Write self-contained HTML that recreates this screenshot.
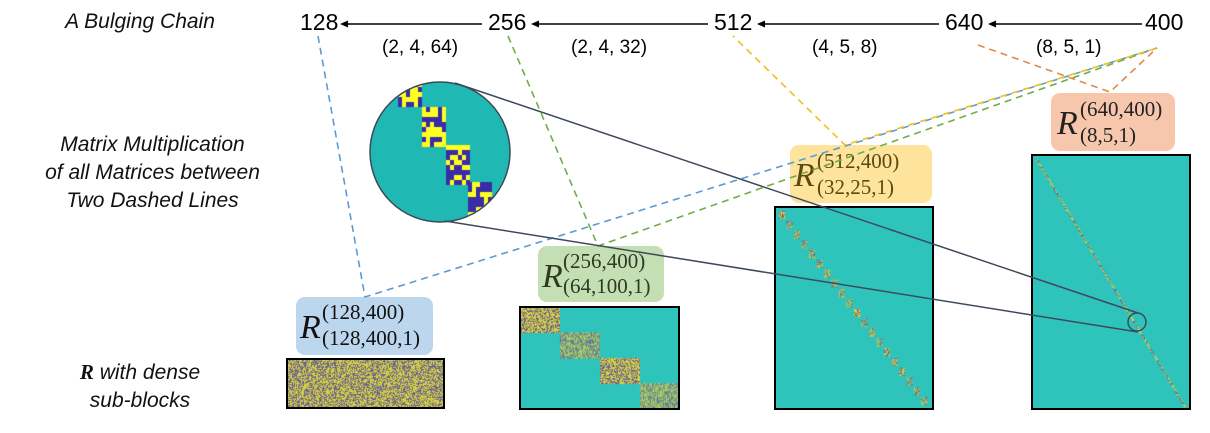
<!DOCTYPE html>
<html><head><meta charset="utf-8"><style>
html,body{margin:0;padding:0;background:#fff;width:1210px;height:433px;overflow:hidden;position:relative;font-family:"Liberation Sans",sans-serif}
canvas{position:absolute}
svg{position:absolute;left:0;top:0}
.lt{position:absolute;font-style:italic;font-size:21px;text-align:center;line-height:28px;color:#111}
.lab{position:absolute;border-radius:9px;font-family:"Liberation Serif",serif}
.lab .R{position:absolute;font-style:italic;font-size:34px}
.lab .s{position:absolute;font-size:21px;white-space:nowrap}
.num{position:absolute;font-size:23px;color:#000}
.tr{position:absolute;font-size:19px;color:#000}
</style></head><body>
<canvas id="c1" width="157" height="49" style="left:287px;top:359px"></canvas>
<canvas id="c2" width="159" height="102" style="left:520px;top:307px"></canvas>
<canvas id="c3" width="158" height="202" style="left:775px;top:207px"></canvas>
<canvas id="c4" width="158" height="254" style="left:1032px;top:155px"></canvas>
<canvas id="c5" width="140" height="140" style="left:370px;top:82px;border-radius:50%"></canvas>

<div class="lt" style="left:40px;top:8px;width:200px">A Bulging Chain</div>
<div class="lt" style="left:10px;top:131px;width:285px">Matrix Multiplication<br>of all Matrices between<br>Two Dashed Lines</div>
<div class="lt" style="left:40px;top:358px;width:200px"><b style="font-family:'Liberation Serif',serif">R</b> with dense<br>sub-blocks</div>

<div class="num" style="left:300px;top:9px">128</div>
<div class="num" style="left:488px;top:9px">256</div>
<div class="num" style="left:714px;top:9px">512</div>
<div class="num" style="left:945px;top:9px">640</div>
<div class="num" style="left:1145px;top:9px">400</div>
<div class="tr" style="left:382px;top:37px">(2, 4, 64)</div>
<div class="tr" style="left:571px;top:37px">(2, 4, 32)</div>
<div class="tr" style="left:812px;top:37px">(4, 5, 8)</div>
<div class="tr" style="left:1036px;top:37px">(8, 5, 1)</div>

<div class="lab" style="left:296px;top:297px;width:137px;height:58px;background:#bcd6ee;color:#111">
<span class="R" style="left:4px;top:12px">R</span><span class="s" style="left:26px;top:3px">(128,400)</span><span class="s" style="left:26px;top:29px">(128,400,1)</span></div>
<div class="lab" style="left:538px;top:246px;width:126px;height:56px;background:#c5dfb5;color:#2e3a22">
<span class="R" style="left:4px;top:12px">R</span><span class="s" style="left:25px;top:3px">(256,400)</span><span class="s" style="left:25px;top:28px">(64,100,1)</span></div>
<div class="lab" style="left:790px;top:145px;width:142px;height:58px;background:#fde39c;color:#5c4a10">
<span class="R" style="left:4px;top:12px">R</span><span class="s" style="left:27px;top:4px">(512,400)</span><span class="s" style="left:27px;top:30px">(32,25,1)</span></div>
<div class="lab" style="left:1051px;top:93px;width:124px;height:58px;background:#f7c7ad;color:#222">
<span class="R" style="left:6px;top:12px">R</span><span class="s" style="left:29px;top:4px">(640,400)</span><span class="s" style="left:29px;top:30px">(8,5,1)</span></div>

<svg width="1210" height="433">
<g stroke="#000" stroke-width="1.6">
<line x1="346" y1="24" x2="482" y2="24"/>
<line x1="537" y1="24" x2="708" y2="24"/>
<line x1="763" y1="24" x2="939" y2="24"/>
<line x1="994" y1="24" x2="1142" y2="24"/>
</g>
<g fill="#000">
<path d="M340,24 L348,20.5 L348,27.5Z"/>
<path d="M531,24 L539,20.5 L539,27.5Z"/>
<path d="M757,24 L765,20.5 L765,27.5Z"/>
<path d="M988,24 L996,20.5 L996,27.5Z"/>
</g>
<g fill="none" stroke-width="1.6" stroke-dasharray="7,5">
<path d="M318,36 L365,297 L1157,48" stroke="#5b9bd5"/>
<path d="M508,36 L598,246 L1157,48" stroke="#70ad47"/>
<path d="M733,36 L845,145 L1157,48" stroke="#f0c020" stroke-dashoffset="5"/>
<path d="M978,45 L1110,92 L1157,48" stroke="#e0894a"/>
</g>
<g fill="none" stroke="#000" stroke-width="2">
<rect x="287" y="359" width="157" height="49"/>
<rect x="520" y="307" width="159" height="102"/>
<rect x="775" y="207" width="158" height="202"/>
<rect x="1032" y="155" width="158" height="254"/>
</g>
<g stroke="#3d4a5c" stroke-width="1.5" fill="none">
<line x1="455" y1="83" x2="1138" y2="313"/>
<line x1="445" y1="221" x2="1138" y2="332"/>
<circle cx="440" cy="152" r="70"/>
<circle cx="1137" cy="322" r="9"/>
</g>
</svg>
<script>
function seed(s){return function(){s=(s*16807)%2147483647;return s/2147483647}}
var r=seed(7);
function noise(ctx,x,y,w,h,p){for(var i=x;i<x+w;i+=p)for(var j=y;j<y+h;j+=p){ctx.fillStyle=r()<0.55?'#d8d040':'#6a6690';ctx.fillRect(i,j,p,p)}}
function teal(id){var c=document.getElementById(id),x=c.getContext('2d');x.fillStyle='#2ec4bc';x.fillRect(0,0,c.width,c.height);return x}
var x1=document.getElementById('c1').getContext('2d');noise(x1,0,0,157,49,1);
var x2=teal('c2');for(var k=0;k<4;k++)noise(x2,k*40,k*25.5,40,26,1);
var x3=teal('c3');for(var k=0;k<20;k++)noise(x3,4+k*7.5,4+k*9.8,6,8,1);
var x4=teal('c4');for(var k=0;k<125;k++)noise(x4,4+k*1.2,4+k*2,2,2,1);
var x5=document.getElementById('c5').getContext('2d');x5.fillStyle='#1fb8b3';x5.fillRect(0,0,140,140);
var bx=[[28,-5,24,30],[52,25,24,40],[76,63,24,40],[98,100,24,35]];
for(var k=0;k<4;k++){var b=bx[k];for(var i=0;i<b[2];i+=4)for(var j=0;j<b[3];j+=5){x5.fillStyle=r()<0.5?'#ffff20':'#3a2ca8';x5.fillRect(b[0]+i,b[1]+j,4,5)}}
</script>
</body></html>
